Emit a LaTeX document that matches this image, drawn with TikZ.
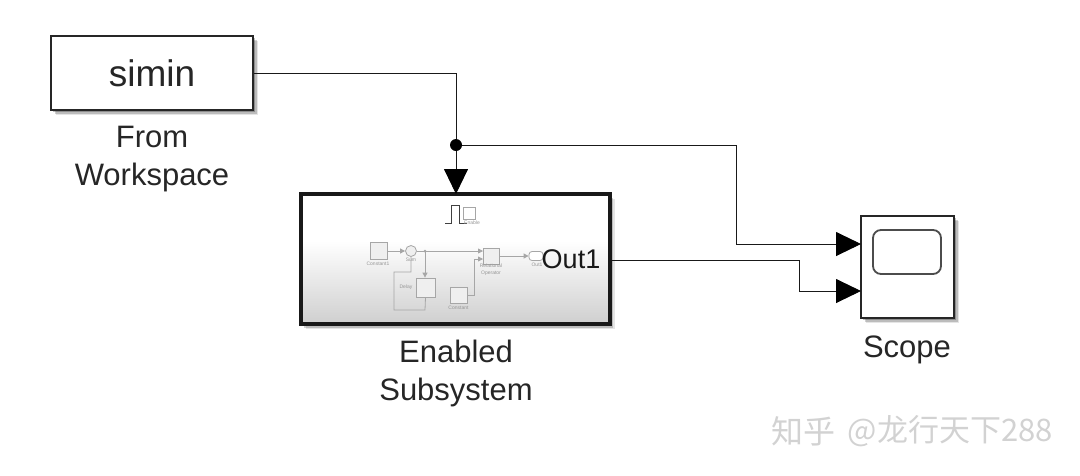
\documentclass[tikz,border=0pt]{standalone}
\usepackage{fontspec}
\setmainfont{Liberation Sans}
\newfontfamily\cjk{Noto Sans CJK SC}
\usetikzlibrary{arrows.meta,shadows,calc}
\definecolor{wiregray}{HTML}{A6A6A6}
\definecolor{fillgray}{HTML}{EFEFEF}
\definecolor{lblgray}{HTML}{969696}
\definecolor{markgray}{HTML}{D2D2D2}
\definecolor{fillA}{HTML}{CFCFCF}
\pgfdeclareverticalshading{subgrad}{100bp}{color(0bp)=(fillA); color(25bp)=(fillA); color(57bp)=(white); color(100bp)=(white)}
\tikzset{
  softshadow/.style={
    drop shadow={shadow xshift=5pt,shadow yshift=-5pt,opacity=.10,fill=black},
    drop shadow={shadow xshift=3.5pt,shadow yshift=-3.5pt,opacity=.18,fill=black},
    drop shadow={shadow xshift=2pt,shadow yshift=-2pt,opacity=.25,fill=black}},
  block/.style={draw=black!85,fill=white,line width=2pt,inner sep=0pt,softshadow},
  lbl/.style={font=\fontsize{31}{37.5}\selectfont,align=center,text=black!85,inner sep=0pt},
  wire/.style={draw=black!90,line width=.9pt},
  bigarrow/.style={wire,-{Triangle[length=25pt,width=24pt,color=black]}},
  mini/.style={draw=wiregray,fill=fillgray,line width=.8pt,inner sep=0pt},
  miniwire/.style={draw=wiregray,line width=.8pt},
  miniarrow/.style={miniwire,-{Triangle[length=5pt,width=5pt]}},
  minilbl/.style={font=\fontsize{5}{7}\selectfont,text=lblgray,align=center,inner sep=0pt}
}
\begin{document}
\begin{tikzpicture}[x=1pt,y=-1pt]
\useasboundingbox (0,0) rectangle (1080,475);
% main blocks
\node[block,minimum width=202pt,minimum height=74pt,font=\fontsize{37}{40}\selectfont,text=black!85] (simin) at (152,73) {simin};
\node[block,line width=4pt,shading=subgrad,draw=black!90,minimum width=309pt,minimum height=130pt] (sub) at (455,259) {};
\node[block,minimum width=93pt,minimum height=102pt] (scope) at (907.5,267) {};
\node[draw=black!70,line width=1.8pt,rounded corners=8pt,minimum width=68pt,minimum height=44pt,inner sep=0pt] (screen) at (907,252) {};
% labels
\node[lbl] (fromlbl) at (152,159) {From\\Workspace};
\node[lbl] (sublbl) at (456,373.5) {Enabled\\Subsystem};
\node[lbl] (scopelbl) at (907,350) {Scope};
% inner model
\node[mini,minimum width=17pt,minimum height=17pt] (const1) at (378.5,251) {};
\node[mini,circle,minimum size=11pt] (sum) at (411,251) {};
\node[mini,minimum width=16pt,minimum height=16pt] (relop) at (491,256) {};
\node[mini,minimum width=19pt,minimum height=19pt] (delay) at (425.5,287.5) {};
\node[mini,minimum width=17pt,minimum height=16pt] (const0) at (458.5,295) {};
\node[mini,fill=white,rounded corners=3pt,minimum width=14pt,minimum height=9pt] (outport) at (536,256) {};
\node[mini,fill=none,minimum width=12pt,minimum height=12pt] (enbox) at (469,213) {};
\coordinate (j1) at (425,251);
\coordinate (w1) at (394,310);
\draw[miniarrow] (const1.east) -- (sum.west);
\draw[miniarrow] (sum.east) -- (483,251);
\draw[miniarrow] (j1) -- (j1 |- delay.north);
\fill[wiregray] (j1) circle (1.5pt);
\draw[miniwire] (delay.south) -- (425,310) -- (w1) -- (394,272) -- (411,272) -- (sum.south);
\draw[miniarrow] (const0.east) -- (474,295) -- (474,259) -- (483,259);
\draw[miniarrow] (relop.east) -- (outport.west);
\draw[draw=black!75,line width=1pt] (445,223) -- (451,223) -- (451,205) -- (459,205) -- (459,223) -- (467,223);
\node[minilbl] (l1) at (378,264) {Constant1};
\node[minilbl] (l2) at (411,260) {Sum};
\node[minilbl] (l3) at (406,287) {Delay};
\node[minilbl] (l4) at (491,270) {Relational\\Operator};
\node[minilbl] (l5) at (458.5,308) {Constant};
\node[minilbl] (l6) at (537,265) {Out1};
\node[minilbl] (l7) at (472,223) {Enable};
\node[font=\fontsize{27}{30}\selectfont,text=black!90,inner sep=0pt] (outl) at (571,259) {Out1};
% connectors
\coordinate (junc) at (456,145);
\coordinate (subin) at (456,194);
\coordinate (sin1) at (861,244);
\coordinate (sin2) at (861,291);
\coordinate (subout) at (609,260);
\draw[bigarrow] (simin.east) -- (456,73) -- (subin);
\draw[bigarrow] (junc) -- (736,145) -- (736,244) -- (sin1);
\draw[bigarrow] (subout) -- (799,260) -- (799,291) -- (sin2);
\fill[black] (junc) circle (6pt);
% watermark
\node[font=\cjk\fontsize{32}{36}\selectfont,text=markgray,anchor=west,inner sep=0pt] (mark1) at (771,431) {知乎};
\node[font=\cjk\fontsize{31}{36}\selectfont,text=markgray,anchor=east,inner sep=0pt] (mark2) at (1053,431) {@龙行天下288};
\end{tikzpicture}
\end{document}
